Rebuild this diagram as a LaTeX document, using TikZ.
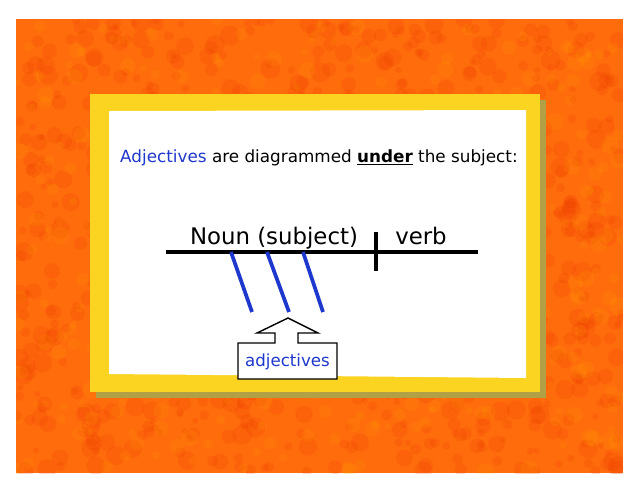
\documentclass[tikz,border=0pt]{standalone}
\usepackage{fontspec}
\setmainfont{DejaVu Sans}
\usepackage{tikz}

\definecolor{bgorange}{RGB}{255,108,12}
\definecolor{bgred}{RGB}{238,58,0}
\definecolor{frameyellow}{RGB}{250,212,32}
\definecolor{frameshadow}{RGB}{178,160,70}
\definecolor{adjblue}{RGB}{30,55,205}

\tikzset{
  adjline/.style={adjblue,line width=3.2pt},
  mainline/.style={black,line width=2.6pt},
}

\begin{document}
\begin{tikzpicture}[x=0.03cm,y=-0.03cm]

\fill[white] (0,0) rectangle (638,493);
\useasboundingbox (0,0) rectangle (638,493);

% orange background
\coordinate (O1) at (16,19);
\coordinate (O2) at (623,473);
\fill[bgorange] (O1) rectangle (O2);
\begin{scope}
\clip (O1) rectangle (O2);
\pgfmathsetseed{11}
\foreach \k in {1,...,900} {
  \pgfmathsetmacro{\px}{16+rnd*607}
  \pgfmathsetmacro{\py}{19+rnd*454}
  \pgfmathsetmacro{\pr}{3+rnd*7}
  \fill[bgred,opacity=0.18] (\px,\py) circle[radius=\pr];
}
\foreach \k in {1,...,400} {
  \pgfmathsetmacro{\px}{16+rnd*607}
  \pgfmathsetmacro{\py}{19+rnd*454}
  \pgfmathsetmacro{\pr}{3+rnd*6}
  \fill[orange!70!yellow,opacity=0.14] (\px,\py) circle[radius=\pr];
}
\end{scope}

% frame
\coordinate (F1) at (90,94);
\coordinate (F2) at (540,392);
\fill[frameshadow] (96,100) rectangle (546,398);
\fill[frameyellow] (F1) rectangle (F2);
\fill[white] (109,111) -- (526,110) -- (526,378) -- (109,374) -- cycle;

% heading
\node[anchor=base west,font=\fontsize{14.35pt}{17pt}\selectfont,inner sep=0] (title) at (120,162)
  {\textcolor{adjblue}{Adjectives} are diagrammed \underline{\textbf{under}} the subject:};

% diagram
\coordinate (L1) at (166,252);
\coordinate (L2) at (478,252);
\coordinate (V1) at (376,232);
\coordinate (V2) at (376,271);

\draw[mainline] (L1) -- (L2);
\draw[mainline] (V1) -- (V2);

\node[anchor=base,font=\fontsize{19.5pt}{22pt}\selectfont,inner sep=0] (noun) at (274,244) {Noun (subject)};
\node[anchor=base,font=\fontsize{19.5pt}{22pt}\selectfont,inner sep=0] (verb) at (421,244) {verb};

\coordinate (A1) at (231,252);
\coordinate (A2) at (252,312);
\coordinate (B1) at (267,252);
\coordinate (B2) at (289,312);
\coordinate (C1) at (303,252);
\coordinate (C2) at (323,312);

\draw[adjline] (A1) -- (A2);
\draw[adjline] (B1) -- (B2);
\draw[adjline] (C1) -- (C2);

% callout
\draw[fill=white,line width=1.2pt,line join=miter]
  (238,379) -- (238,343) -- (275,343) -- (275,333) -- (257,333) -- (288,318)
  -- (318,333) -- (298,333) -- (298,343) -- (337,343) -- (337,379) -- cycle;
\node[adjblue,font=\fontsize{14.2pt}{17pt}\selectfont,inner sep=0] (adj) at (287.5,361.5) {adjectives};

\end{tikzpicture}
\end{document}
